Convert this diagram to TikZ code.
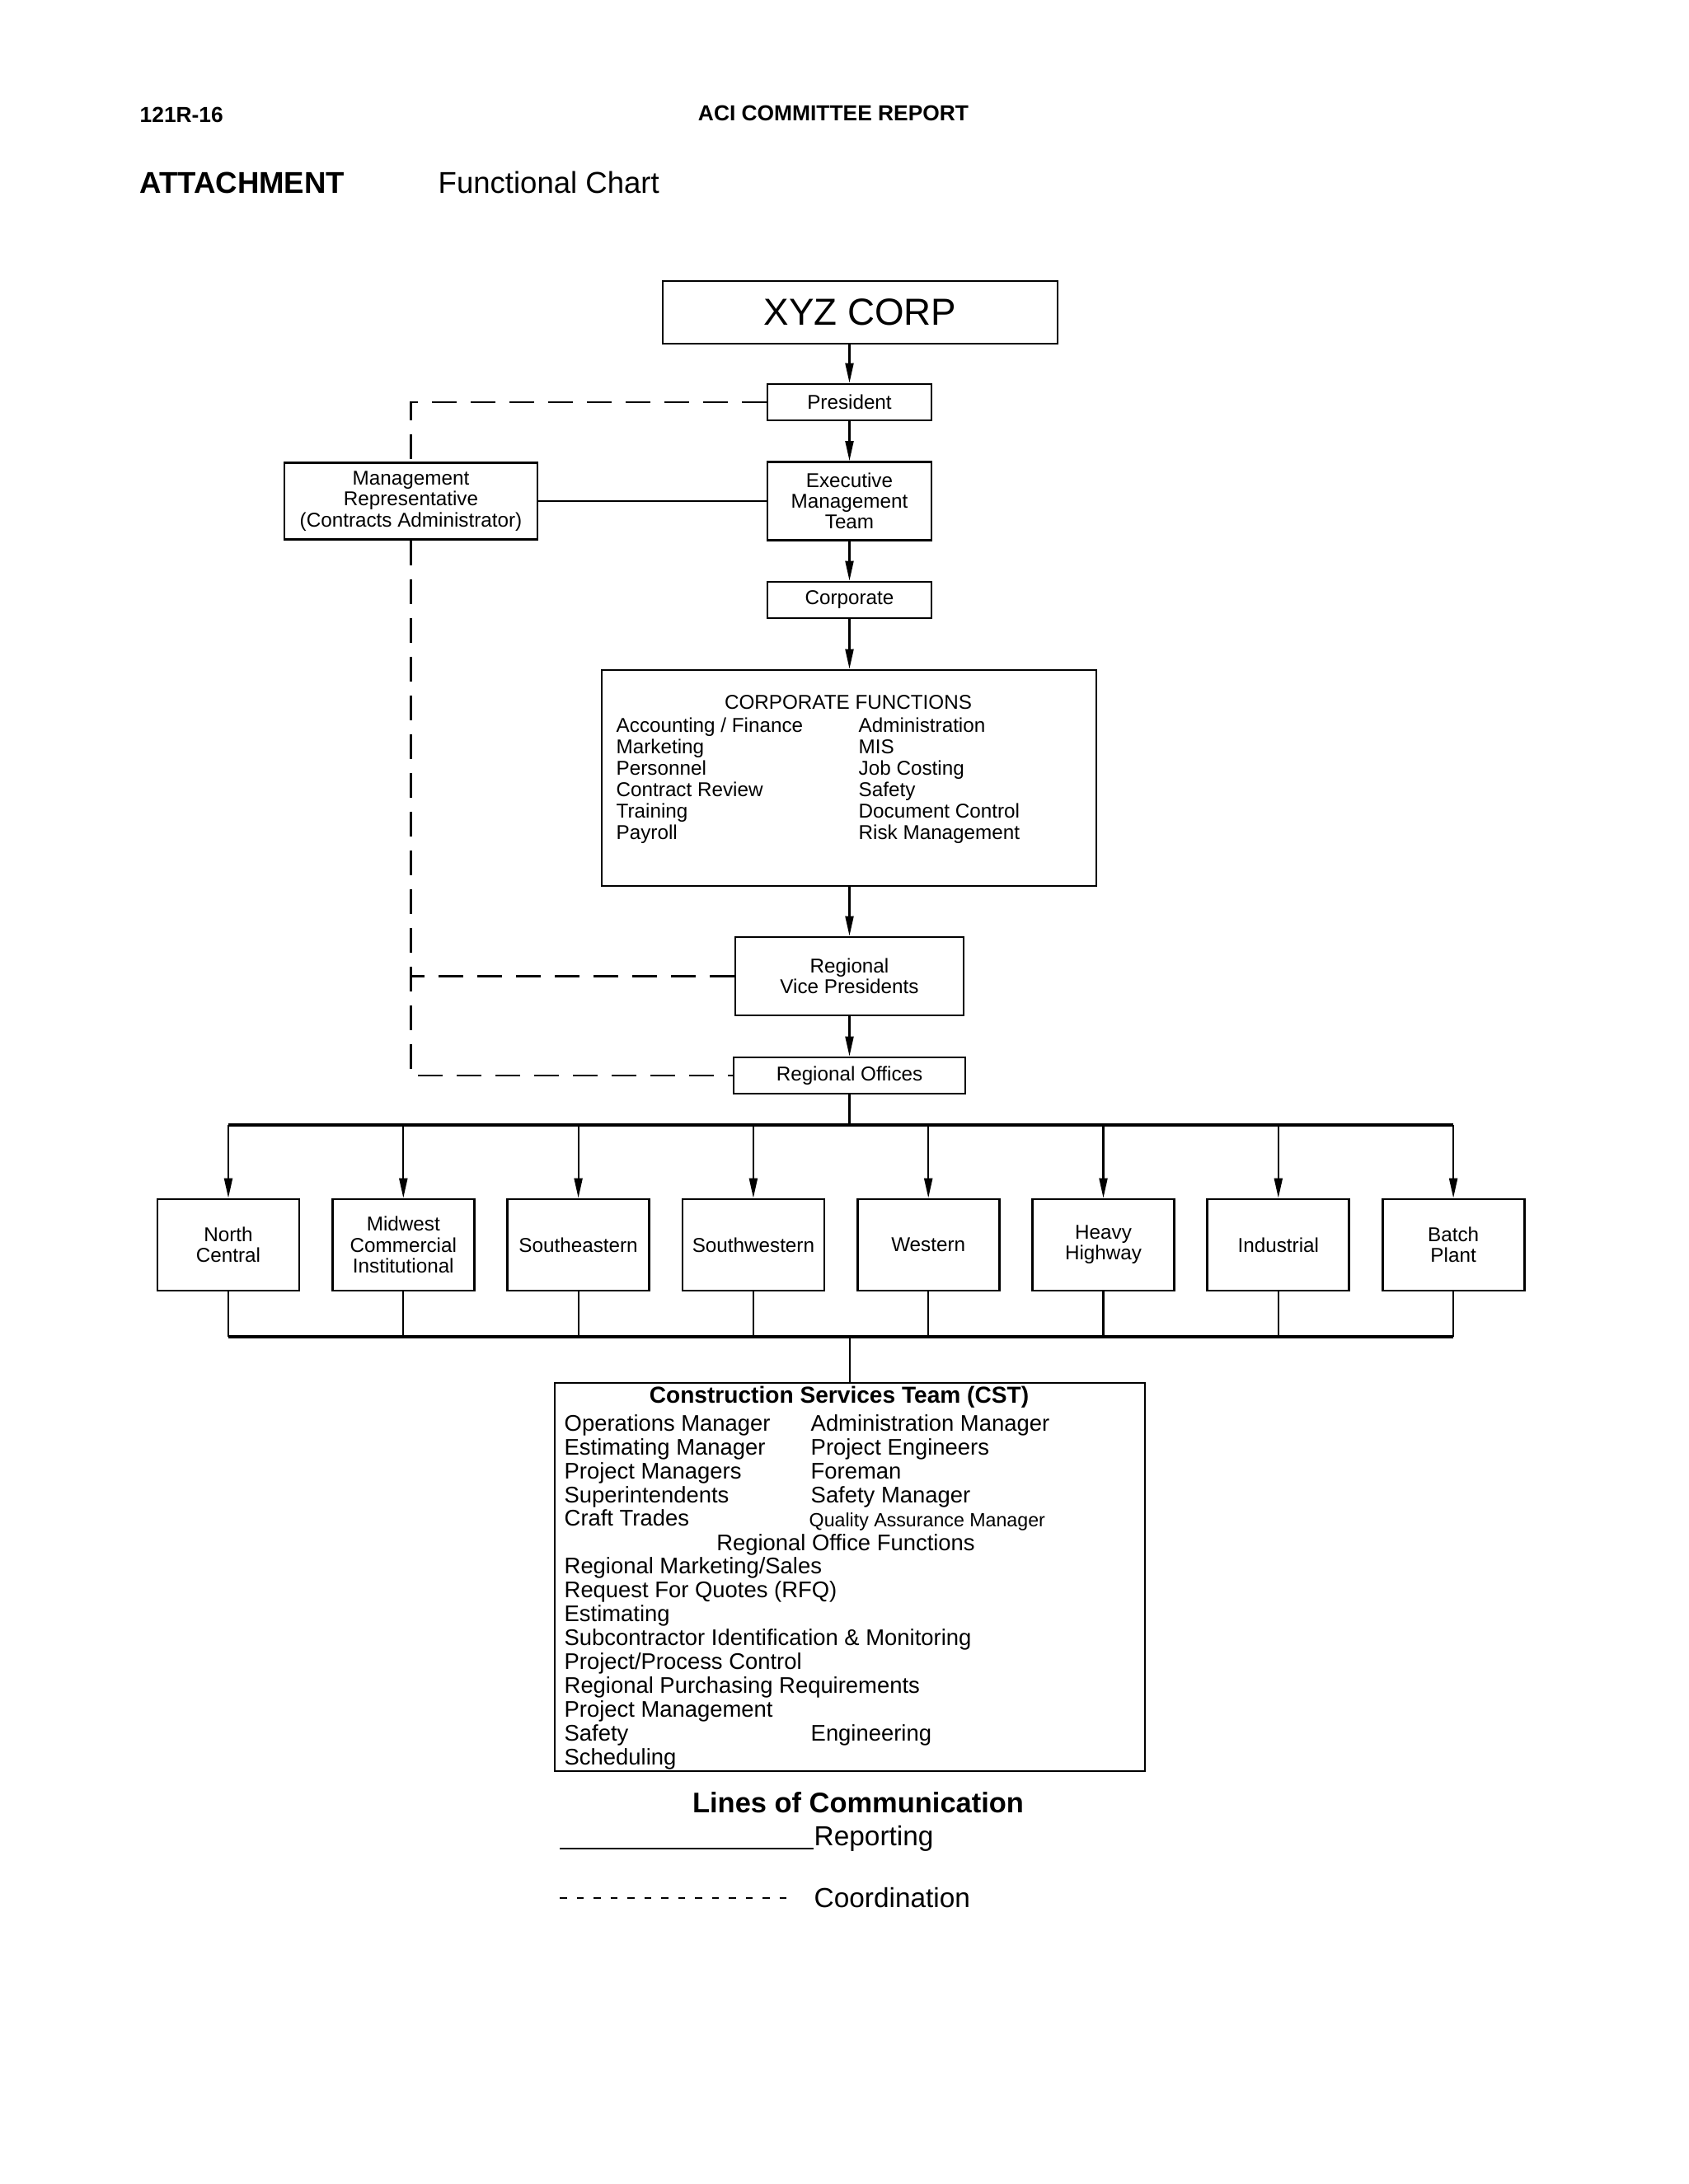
\documentclass[tikz,border=0pt]{standalone}
\usepackage{fontspec}
\setmainfont{Liberation Sans}
\usetikzlibrary{arrows.meta,positioning,calc}

\begin{document}
\begin{tikzpicture}[font=\fontsize{6.9}{7.2}\selectfont]
    \tikzstyle{box} = [rectangle, draw, line width=0.8pt, align=center, inner sep=1pt]
    \tikzstyle{arrow} = [-{Triangle[length=0.24cm,width=0.1cm]}, line width=0.6pt]
    \tikzstyle{conn} = [line width=0.6pt]
    \tikzstyle{bus} = [line width=1.4pt]
    \tikzstyle{coord} = [line width=0.6pt, dash pattern=on 0.3cm off 0.17cm]
    \tikzstyle{item} = [anchor=west, inner sep=0pt, text height=1.6ex, text depth=0.4ex]
    \tikzstyle{region} = [box, minimum width=1.72cm, minimum height=1.11cm]

    \useasboundingbox (0,0) rectangle (20.48,-26.5);

    % page heading
    \node[item, font=\fontsize{7.5}{9}\selectfont\bfseries] (pageno) at (1.69,-1.37) {121R-16};
    \node[inner sep=0pt, font=\fontsize{7.5}{9}\selectfont\bfseries] (report) at (10.11,-1.37) {ACI COMMITTEE REPORT};
    \node[item, font=\fontsize{10.4}{12}\selectfont\bfseries] (attach) at (1.69,-2.23) {ATTACHMENT};
    \node[item, font=\fontsize{10.4}{12}\selectfont] (title) at (5.31,-2.23) {Functional Chart};

    % main chain
    \node[box, minimum width=4.79cm, minimum height=0.76cm, font=\fontsize{13}{15}\selectfont] (xyz) at (10.435,-3.79) {XYZ CORP};
    \node[box, minimum width=1.99cm, minimum height=0.44cm] (pres) at (10.305,-4.88) {President};
    \node[box, minimum width=1.99cm, minimum height=0.95cm] (emt) at (10.305,-6.08) {Executive\\Management\\Team};
    \node[box, minimum width=3.07cm, minimum height=0.93cm] (mgr) at (4.985,-6.08) {Management\\Representative\\(Contracts Administrator)};
    \node[box, minimum width=1.99cm, minimum height=0.44cm] (corp) at (10.305,-7.28) {Corporate};
    \node[box, minimum width=6.0cm, minimum height=2.62cm] (cf) at (10.30,-9.44) {};
    \node[box, minimum width=2.77cm, minimum height=0.95cm] (rvp) at (10.305,-11.845) {Regional\\Vice Presidents};
    \node[box, minimum width=2.81cm, minimum height=0.44cm] (ro) at (10.305,-13.05) {Regional Offices};

    \draw[arrow] (pres.north |- xyz.south) -- (pres.north);
    \draw[arrow] (pres) -- (emt);
    \draw[arrow] (emt) -- (corp);
    \draw[arrow] (corp) -- (cf.north -| corp);
    \draw[arrow] (cf.south -| rvp) -- (rvp);
    \draw[arrow] (rvp) -- (ro);
    \draw[conn] (mgr.east) -- (emt.west);

    % coordination (dashed)
    \draw[coord] (pres.west) -- (pres.west -| mgr.north) -- (mgr.north);
    \draw[coord] (mgr.south) -- (mgr.south |- ro.west) -- (ro.west);
    \draw[coord] (rvp.west) -- (rvp.west -| mgr.south);

    % corporate functions
    \node[inner sep=0pt] (cfhead) at (10.29,-8.52) {CORPORATE FUNCTIONS};
    \foreach \txt [count=\i] in {Accounting / Finance, Marketing, Personnel, Contract Review, Training, Payroll}
        \node[item] (cfl\i) at (7.47,-8.51-0.26*\i) {\txt};
    \foreach \txt [count=\i] in {Administration, MIS, Job Costing, Safety, Document Control, Risk Management}
        \node[item] (cfr\i) at (10.41,-8.51-0.26*\i) {\txt};

    % regions
    \coordinate (bl) at (2.77,-13.65);
    \coordinate (br) at (17.63,-13.65);
    \coordinate (bbl) at (2.77,-16.22);
    \coordinate (bbr) at (17.63,-16.22);
    \draw[conn] (ro.south) -- (ro.south |- bl);
    \draw[bus] (bl) -- (br);
    \draw[bus] (bbl) -- (bbr);
    \foreach \nm/\txt [count=\i from 0] in {nc/North\\Central, mci/Midwest\\Commercial\\Institutional, se/Southeastern, sw/Southwestern, wst/Western, hh/Heavy\\Highway, ind/Industrial, bp/Batch\\Plant} {
        \node[region] (\nm) at (2.77+2.123*\i,-15.105) {\txt};
        \draw[arrow] (\nm.north |- bl) -- (\nm.north);
        \draw[conn] (\nm.south) -- (\nm.south |- bbl);
    }

    % construction services team
    \node[box, minimum width=7.16cm, minimum height=4.71cm] (cst) at (10.31,-19.135) {};
    \draw[conn] (bbl -| cst.north) -- (cst.north);
    \begin{scope}[font=\fontsize{7.8}{8.2}\selectfont]
        \node[inner sep=0pt, font=\fontsize{8}{9}\selectfont\bfseries] (csthead) at (10.18,-16.95) {Construction Services Team (CST)};
        \foreach \txt [count=\i from 0] in {Operations Manager, Estimating Manager, Project Managers, Superintendents, Craft Trades}
            \node[item] (cstl\i) at (6.84,-17.25-0.2895*\i) {\txt};
        \foreach \txt [count=\i from 0] in {Administration Manager, Project Engineers, Foreman, Safety Manager}
            \node[item] (cstr\i) at (9.83,-17.25-0.2895*\i) {\txt};
        \node[item, font=\fontsize{6.6}{8}\selectfont] (cstr4) at (9.81,-18.41) {Quality Assurance Manager};
        \node[inner sep=0pt, text height=1.6ex, text depth=0.4ex] (rof) at (10.26,-18.70) {Regional Office Functions};
        \foreach \txt [count=\i from 6] in {Regional Marketing/Sales, Request For Quotes (RFQ), Estimating, Subcontractor Identification \& Monitoring, Project/Process Control, Regional Purchasing Requirements, Project Management, Safety, Scheduling}
            \node[item] (rofl\i) at (6.84,-17.25-0.2895*\i) {\txt};
        \node[item] (rofr13) at (9.83,-21.01) {Engineering};
    \end{scope}

    % legend
    \node[inner sep=0pt, font=\fontsize{9.8}{11}\selectfont\bfseries] (legend) at (10.41,-21.87) {Lines of Communication};
    \node[item, font=\fontsize{9.5}{11}\selectfont] (rep) at (9.87,-22.28) {Reporting};
    \node[item, font=\fontsize{9.5}{11}\selectfont] (coo) at (9.87,-23.03) {Coordination};
    \coordinate (repl) at (6.79,-22.43);
    \coordinate (cool) at (6.79,-23.03);
    \draw[line width=0.7pt] (repl) -- (repl -| rep.west);
    \draw[line width=0.5pt, dash pattern=on 0.085cm off 0.12cm] (cool) -- ($(coo.west)+(-0.24,0)$);
\end{tikzpicture}
\end{document}
